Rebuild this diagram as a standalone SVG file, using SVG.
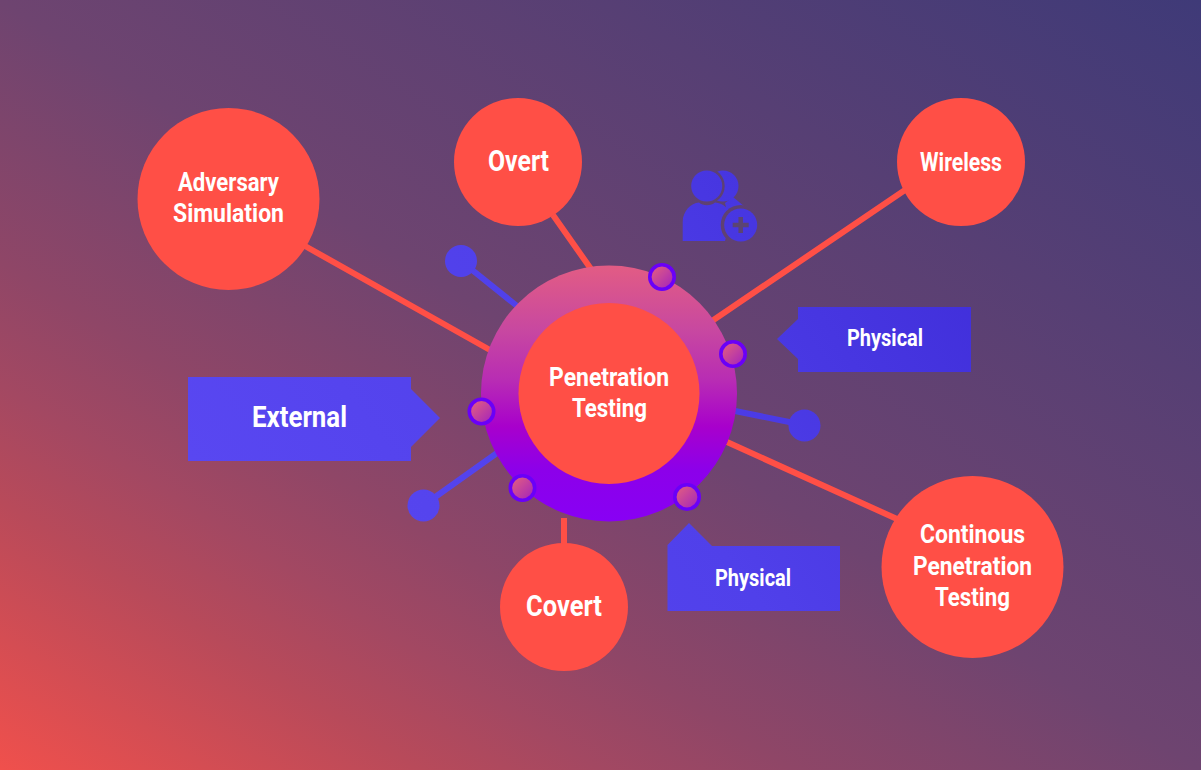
<svg xmlns="http://www.w3.org/2000/svg" width="1201" height="770" viewBox="0 0 1201 770">
<style>
text{font-family:"Roboto","Liberation Sans",sans-serif;font-weight:700;fill:#fff;text-anchor:middle}
.n{fill:#ff4f46}
.r{stroke:#ff4f46;stroke-width:6;fill:none}
.b{stroke:url(#blue);stroke-width:6;fill:none}
.bf{fill:url(#blue)}
.s{fill:url(#knob);stroke:#6a00f8;stroke-width:3.600}
</style>
<defs>
<linearGradient id="bg" x1="0" y1="1" x2="1" y2="0">
<stop offset="0" stop-color="#f0504c"/><stop offset=".175" stop-color="#b84a5a"/><stop offset=".25" stop-color="#a34862"/><stop offset=".33" stop-color="#8f4667"/><stop offset=".5" stop-color="#6e4470"/><stop offset="1" stop-color="#3f3a78"/>
</linearGradient>
<linearGradient id="blue" gradientUnits="userSpaceOnUse" x1="300" y1="700" x2="1000" y2="200">
<stop offset="0" stop-color="#5a48f2"/><stop offset=".5" stop-color="#5040ea"/><stop offset="1" stop-color="#3e2cd8"/>
</linearGradient>
<linearGradient id="ring" x1="0" y1="0" x2="0" y2="1">
<stop offset="0" stop-color="#e25c84"/><stop offset=".25" stop-color="#c848a0"/><stop offset=".45" stop-color="#b82cb4"/><stop offset=".63" stop-color="#a800cc"/><stop offset=".8" stop-color="#8c00ea"/><stop offset="1" stop-color="#8800f4"/>
</linearGradient>
<linearGradient id="knob" x1="0" y1="0" x2="1" y2="1">
<stop offset="0" stop-color="#e8647a"/><stop offset="1" stop-color="#a020c0"/>
</linearGradient>
<mask id="iconMask" maskUnits="userSpaceOnUse" x="670" y="160" width="100" height="90">
<rect x="670" y="160" width="100" height="90" fill="#fff"/>
<circle cx="706.700" cy="186" r="18" fill="#000"/>
<circle cx="740.700" cy="225" r="20" fill="#000"/>
</mask>
<mask id="bodyMask" maskUnits="userSpaceOnUse" x="670" y="160" width="100" height="90">
<rect x="670" y="160" width="100" height="90" fill="#fff"/>
<circle cx="740.700" cy="225" r="20" fill="#000"/>
</mask>
</defs>
<rect width="1201" height="770" fill="url(#bg)"/>
<g id="connectors">
<path class="r" d="M305 246L490 350M553 215L591 269M905 190L712 321M897 519L727 442M564 550V518"/>
<path class="b" d="M461 261L517 306M804 425L735 411M424 505L497 453"/>
<circle class="bf" cx="461" cy="261" r="16"/>
<circle class="bf" cx="804.500" cy="425.500" r="16"/>
<circle class="bf" cx="423.500" cy="505.500" r="16"/>
</g>
<g id="node-center">
<circle cx="609" cy="393.500" r="128" fill="url(#ring)"/>
<circle class="n" cx="609" cy="393.500" r="90.500"/>
<text x="609" y="386" font-size="26" textLength="120" lengthAdjust="spacingAndGlyphs">Penetration</text>
<text x="609.500" y="417" font-size="26" textLength="75" lengthAdjust="spacingAndGlyphs">Testing</text>
<circle class="s" cx="662" cy="277" r="12.200"/>
<circle class="s" cx="733" cy="354" r="12.200"/>
<circle class="s" cx="481.500" cy="411.500" r="12.200"/>
<circle class="s" cx="522.500" cy="488" r="12.200"/>
<circle class="s" cx="687" cy="497" r="12.200"/>
</g>
<g id="node-adversary">
<circle class="n" cx="228.500" cy="199" r="91"/>
<text x="228.500" y="191" font-size="26" textLength="101" lengthAdjust="spacingAndGlyphs">Adversary</text>
<text x="228.500" y="222" font-size="26" textLength="111" lengthAdjust="spacingAndGlyphs">Simulation</text>
</g>
<g id="node-overt">
<circle class="n" cx="518" cy="162" r="64"/>
<text x="518.500" y="171" font-size="29" textLength="61" lengthAdjust="spacingAndGlyphs">Overt</text>
</g>
<g id="node-wireless">
<circle class="n" cx="961" cy="162" r="64"/>
<text x="961" y="171" font-size="26" textLength="82" lengthAdjust="spacingAndGlyphs">Wireless</text>
</g>
<g id="node-covert">
<circle class="n" cx="564" cy="607" r="64"/>
<text x="564" y="616" font-size="29" textLength="76" lengthAdjust="spacingAndGlyphs">Covert</text>
</g>
<g id="node-continuous">
<circle class="n" cx="972.500" cy="567" r="91"/>
<text x="972.500" y="543" font-size="26" textLength="105" lengthAdjust="spacingAndGlyphs">Continous</text>
<text x="972.500" y="575" font-size="26" textLength="119" lengthAdjust="spacingAndGlyphs">Penetration</text>
<text x="972.500" y="606" font-size="26" textLength="75" lengthAdjust="spacingAndGlyphs">Testing</text>
</g>
<g id="node-external">
<path class="bf" d="M188 377H411V389L440 418L411 447V461H188Z"/>
<text x="299.500" y="427" font-size="29" textLength="95" lengthAdjust="spacingAndGlyphs">External</text>
</g>
<g id="node-physical-1">
<path class="bf" d="M798 307H971V372H798V359L777 339L798 319Z"/>
<text x="885" y="346" font-size="24" textLength="76" lengthAdjust="spacingAndGlyphs">Physical</text>
</g>
<g id="node-physical-2">
<path class="bf" d="M667.500 546V545L689 523L712 546H840V611H667.500Z"/>
<text x="753" y="586" font-size="24" textLength="76" lengthAdjust="spacingAndGlyphs">Physical</text>
</g>
<g id="node-icon">
<circle class="bf" cx="723" cy="186" r="15.500" mask="url(#iconMask)"/>
<path class="bf" mask="url(#iconMask)" d="M725 203L733 197L745 207L728 216Z"/>
<circle class="bf" cx="706.700" cy="186" r="15.500"/>
<path class="bf" mask="url(#bodyMask)" d="M682.700 241V222C682.700 211 691 203 699 202.500C703 206 711 206 715 202.500C723 203 729 209 732 215L725 241Z"/>
<circle class="bf" cx="740.700" cy="225" r="16.500"/>
<path d="M740.700 217V233M732.700 225H748.700" stroke="#5b4472" stroke-width="4.500" fill="none"/>
</g>
</svg>
